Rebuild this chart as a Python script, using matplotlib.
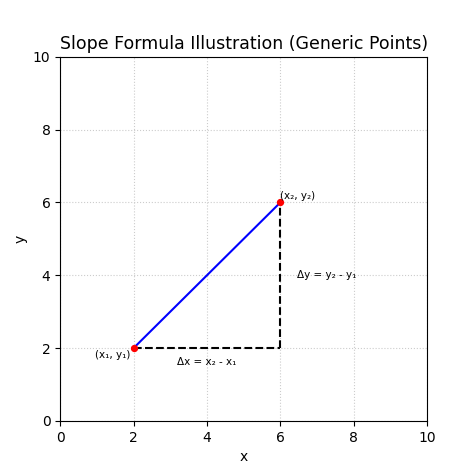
import matplotlib
matplotlib.use("Agg")
import matplotlib.pyplot as plt

xs = [2, 6]
ys = [2, 6]
corner = [6, 2]
labels = ["(x₁, y₁)", "(x₂, y₂)"]
dx_label = "Δx = x₂ - x₁"
dy_label = "Δy = y₂ - y₁"

fig = plt.figure(figsize=(4.74, 4.74), dpi=100)
ax = fig.add_axes([0.127, 0.112, 0.774, 0.768])
ax.plot(xs, ys, color="blue", lw=1.5)
ax.plot([xs[0], corner[0]], [ys[0], corner[1]], "k--", lw=1.5)
ax.plot([corner[0], xs[1]], [corner[1], ys[1]], "k--", lw=1.5)
ax.scatter(xs, ys, color="red", s=18, zorder=3)
ax.text(xs[0] - 0.1, ys[0] - 0.05, labels[0], fontsize=7.5, ha="right", va="top")
ax.text(xs[1] + 0.0, ys[1] + 0.05, labels[1], fontsize=7.5, ha="left", va="bottom")
ax.text((xs[0] + corner[0]) / 2, corner[1] - 0.25, dx_label, fontsize=7.5, ha="center", va="top")
ax.text(corner[0] + 0.45, (corner[1] + ys[1]) / 2, dy_label, fontsize=7.5, ha="left", va="center")
ax.set_xlim(0, 10)
ax.set_ylim(0, 10)
ax.set_xticks(range(0, 11, 2))
ax.set_yticks(range(0, 11, 2))
ax.grid(True, linestyle=":", color="#cccccc")
ax.set_xlabel("x", fontsize=10)
ax.set_ylabel("y", fontsize=10)
ax.set_title("Slope Formula Illustration (Generic Points)", fontsize=12.5)
ax.tick_params(labelsize=10)
fig.savefig("out.png", dpi=100)
